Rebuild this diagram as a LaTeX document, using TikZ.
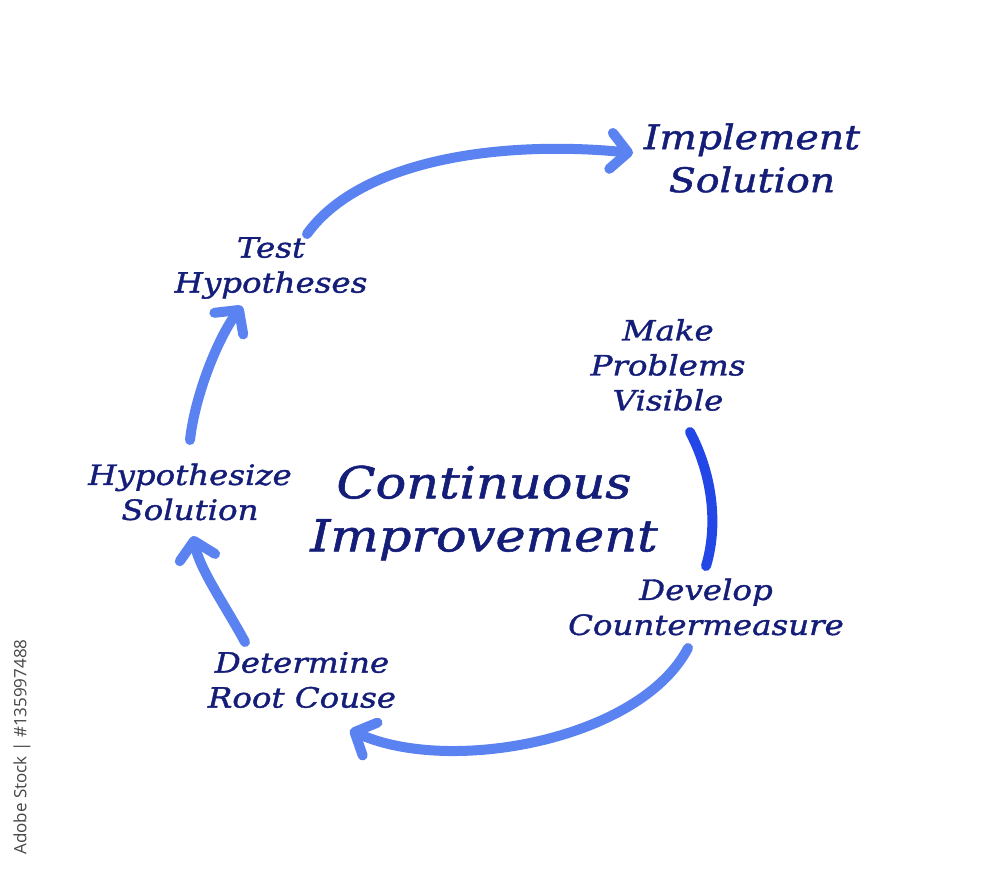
\documentclass[tikz,border=0pt]{standalone}
\usepackage{fontspec}
\setmainfont{DejaVu Serif}[FakeStretch=1.16, FakeBold=1.3]
\newfontfamily\wmfont{Open Sans}
\usetikzlibrary{arrows.meta}
\definecolor{navy}{RGB}{20,30,120}
\definecolor{arrowblue}{RGB}{90,130,240}
\definecolor{darkblue}{RGB}{35,70,230}
\definecolor{wmgray}{RGB}{70,70,70}
\tikzset{
  lbl/.style={text=navy, align=center, inner sep=0pt, font=\fontsize{28}{35}\selectfont\itshape},
  biglbl/.style={text=navy, align=center, inner sep=0pt, font=\fontsize{34}{43}\selectfont\itshape},
  titlelbl/.style={text=navy, align=center, inner sep=0pt, font=\fontsize{44}{53}\selectfont\itshape},
  flow/.style={line width=10pt, draw=arrowblue, line cap=round,
    -{Straight Barb[length=17pt,width=36pt,round]}},
  plainflow/.style={line width=10pt, draw=darkblue, line cap=round},
}
\begin{document}
\begin{tikzpicture}[x=1pt,y=-1pt]
\path[use as bounding box, fill=white] (0,0) rectangle (1000,872);

% labels
\node[biglbl] (impl) at (752,158) {Implement\\Solution};
\node[lbl] (test) at (271,268) {Test\\Hypotheses};
\node[lbl] (make) at (668,365) {Make\\Problems\\Visible};
\node[lbl] (hyp) at (190,492) {Hypothesize\\Solution};
\node[titlelbl] (title) at (484,513) {Continuous\\Improvement};
\node[lbl] (dev) at (706,607) {Develop\\Countermeasure};
\node[lbl] (root) at (302,680) {Determine\\Root Couse};

% connector end points
\coordinate (a1s) at (307,234);
\coordinate (a1e) at (633,153);
\coordinate (a2s) at (190,440);
\coordinate (a2e) at (242,306);
\coordinate (a3s) at (245,642);
\coordinate (a3e) at (193,536);
\coordinate (a4s) at (688,648);
\coordinate (a4e) at (350,730);
\coordinate (a5s) at (690,432);
\coordinate (a5e) at (706,566);

% connectors
\draw[flow] (a1s) .. controls (360,160) and (500,140) .. (a1e);
\draw[flow] (a2s) .. controls (195,395) and (218,338) .. (a2e);
\draw[flow] (a3s) .. controls (225,605) and (200,570) .. (a3e);
\draw[flow] (a4s) .. controls (640,740) and (450,775) .. (a4e);
\draw[plainflow] (a5s) .. controls (715,480) and (717,530) .. (a5e);

% stock mark
\node[rotate=90, text=wmgray, font=\wmfont\fontsize{17}{20}\selectfont, inner sep=0pt] (wm) at (22,747) {Adobe Stock | \#135997488};
\end{tikzpicture}
\end{document}
